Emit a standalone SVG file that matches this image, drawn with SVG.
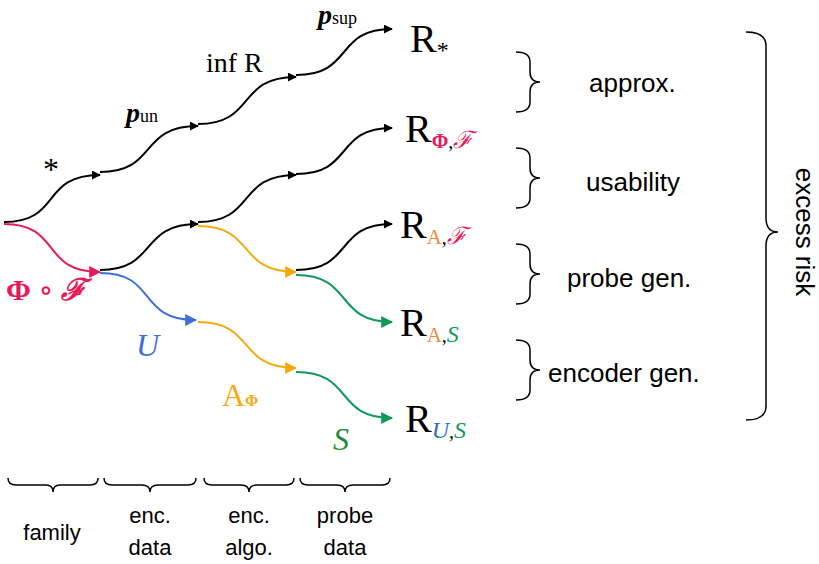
<svg xmlns="http://www.w3.org/2000/svg" width="819" height="564" viewBox="0 0 819 564">
<style>
.c{fill:none;stroke-width:2}
.s{font-family:"Liberation Sans",Arial,sans-serif;font-size:26px;fill:#000}
.m{font-family:"Liberation Serif","DejaVu Serif",serif;fill:#000}
.br{fill:none;stroke:#000;stroke-width:1.5}
</style>
<defs>
<marker id="ak" viewBox="0 0 10 10" refX="9" refY="5" markerWidth="9" markerHeight="9" orient="auto" markerUnits="userSpaceOnUse"><path d="M0,0L10,5L0,10z" fill="#000"/></marker>
<marker id="ar" viewBox="0 0 10 10" refX="9" refY="5" markerWidth="12" markerHeight="12" orient="auto" markerUnits="userSpaceOnUse"><path d="M0,0L10,5L0,10z" fill="#e8195a"/></marker>
<marker id="ab" viewBox="0 0 10 10" refX="9" refY="5" markerWidth="12" markerHeight="12" orient="auto" markerUnits="userSpaceOnUse"><path d="M0,0L10,5L0,10z" fill="#3f6fd8"/></marker>
<marker id="ao" viewBox="0 0 10 10" refX="9" refY="5" markerWidth="12" markerHeight="12" orient="auto" markerUnits="userSpaceOnUse"><path d="M0,0L10,5L0,10z" fill="#f8a912"/></marker>
<marker id="ag" viewBox="0 0 10 10" refX="9" refY="5" markerWidth="12" markerHeight="12" orient="auto" markerUnits="userSpaceOnUse"><path d="M0,0L10,5L0,10z" fill="#0f9a5a"/></marker>
</defs>
<g id="connectors">
<path class="c" stroke="#000" stroke-width="1.5" marker-end="url(#ak)" d="M4,222 C62,222 40,175 100,175"/>
<path class="c" stroke="#000" stroke-width="1.5" marker-end="url(#ak)" d="M100,172 C158,172 138,126 198,126"/>
<path class="c" stroke="#000" stroke-width="1.5" marker-end="url(#ak)" d="M198,124 C256,124 236,77 296,77"/>
<path class="c" stroke="#000" stroke-width="1.5" marker-end="url(#ak)" d="M296,75 C354,75 334,29 392,29"/>
<path class="c" stroke="#000" stroke-width="1.5" marker-end="url(#ak)" d="M100,270 C158,270 138,224 198,224"/>
<path class="c" stroke="#000" stroke-width="1.5" marker-end="url(#ak)" d="M198,222 C256,222 236,175 296,175"/>
<path class="c" stroke="#000" stroke-width="1.5" marker-end="url(#ak)" d="M296,174 C354,174 334,128 392,128"/>
<path class="c" stroke="#000" stroke-width="1.5" marker-end="url(#ak)" d="M296,270 C354,270 334,224 392,224"/>
<path class="c" stroke="#e8195a" marker-end="url(#ar)" d="M4,224 C62,224 40,272 100,272"/>
<path class="c" stroke="#3f6fd8" marker-end="url(#ab)" d="M100,273 C158,273 136,320 196,320"/>
<path class="c" stroke="#f8a912" marker-end="url(#ao)" d="M198,226 C256,226 236,272 296,272"/>
<path class="c" stroke="#f8a912" marker-end="url(#ao)" d="M198,322 C256,322 236,368 296,368"/>
<path class="c" stroke="#0f9a5a" marker-end="url(#ag)" d="M296,275 C354,275 334,322 392,322"/>
<path class="c" stroke="#0f9a5a" marker-end="url(#ag)" d="M296,372 C354,372 334,418 392,418"/>
</g>
<g id="edge-labels">
<text class="m" x="43" y="180" font-size="32">*</text>
<text class="m" x="126" y="122" font-size="28" font-style="italic" font-weight="bold">p<tspan font-size="18" font-style="normal" font-weight="normal">un</tspan></text>
<text class="m" x="206" y="72" font-size="28">inf R</text>
<text class="m" x="318" y="24" font-size="28" font-style="italic" font-weight="bold">p<tspan font-size="18" font-style="normal" font-weight="normal">sup</tspan></text>
<text class="m" x="6" y="300" font-size="30" style="fill:#e8195a" font-weight="bold">Φ <tspan font-weight="normal">∘</tspan> <tspan font-style="italic">ℱ</tspan></text>
<text class="m" x="136" y="356" font-size="32" font-style="italic" style="fill:#3f6fd8">U</text>
<text class="m" x="222" y="406" font-size="32" style="fill:#f8a912">A<tspan font-size="16" font-weight="bold">Φ</tspan></text>
<text class="m" x="333" y="450" font-size="32" font-style="italic" style="fill:#1f8a3a">S</text>
</g>
<g id="risks">
<text class="m" x="410" y="52" font-size="40">R<tspan font-size="24" dy="6">*</tspan></text>
<text class="m" x="405" y="142" font-size="40">R<tspan font-size="20" dy="6" style="fill:#e8195a" font-weight="bold">Φ</tspan><tspan font-size="20">,</tspan><tspan font-size="24" font-style="italic" style="fill:#e8195a">ℱ</tspan></text>
<text class="m" x="400" y="238" font-size="40">R<tspan font-size="21" dy="6" style="fill:#f08a3c">A</tspan><tspan font-size="20">,</tspan><tspan font-size="24" font-style="italic" style="fill:#e8195a">ℱ</tspan></text>
<text class="m" x="400" y="336" font-size="40">R<tspan font-size="21" dy="6" style="fill:#f08a3c">A</tspan><tspan font-size="20">,</tspan><tspan font-size="24" font-style="italic" style="fill:#0f9a5a">S</tspan></text>
<text class="m" x="405" y="432" font-size="40">R<tspan font-size="24" dy="6" font-style="italic" style="fill:#2a70b8">U</tspan><tspan font-size="20">,</tspan><tspan font-size="24" font-style="italic" style="fill:#0f9a5a">S</tspan></text>
</g>
<g id="right-braces">
<path class="br" d="M516,52 Q530,52 530,62 L530,72 Q530,82 540,82 Q530,82 530,92 L530,102 Q530,112 516,112"/>
<path class="br" d="M516,148 Q530,148 530,158 L530,168 Q530,178 540,178 Q530,178 530,188 L530,198 Q530,208 516,208"/>
<path class="br" d="M516,244 Q530,244 530,254 L530,264 Q530,274 540,274 Q530,274 530,284 L530,294 Q530,304 516,304"/>
<path class="br" d="M516,340 Q530,340 530,350 L530,360 Q530,370 540,370 Q530,370 530,380 L530,390 Q530,400 516,400"/>
<path class="br" d="M746,32 Q766,32 766,46 L766,218 Q766,232 778,232 Q766,232 766,246 L766,406 Q766,420 746,420"/>
<text class="s" x="589" y="92">approx.</text>
<text class="s" x="586" y="191">usability</text>
<text class="s" x="567" y="287">probe gen.</text>
<text class="s" x="548" y="382">encoder gen.</text>
<text class="s" transform="translate(796,232) rotate(90)" text-anchor="middle">excess risk</text>
</g>
<g id="bottom">
<path class="br" stroke-width="1" d="M8,478 Q8,485 16,485 L46,485 Q53,485 53,492 Q53,485 60,485 L90,485 Q98,485 98,478"/>
<path class="br" stroke-width="1" d="M104,478 Q104,485 112,485 L142,485 Q150,485 150,492 Q150,485 158,485 L188,485 Q196,485 196,478"/>
<path class="br" stroke-width="1" d="M204,478 Q204,485 212,485 L241,485 Q249,485 249,492 Q249,485 257,485 L286,485 Q294,485 294,478"/>
<path class="br" stroke-width="1" d="M300,478 Q300,485 308,485 L337,485 Q345,485 345,492 Q345,485 353,485 L382,485 Q390,485 390,478"/>
<g text-anchor="middle">
<text class="s" style="font-size:22px" x="52" y="540">family</text>
<text class="s" style="font-size:22px" x="150" y="523">enc.</text>
<text class="s" style="font-size:22px" x="150" y="555">data</text>
<text class="s" style="font-size:22px" x="249" y="523">enc.</text>
<text class="s" style="font-size:22px" x="249" y="555">algo.</text>
<text class="s" style="font-size:22px" x="345" y="523">probe</text>
<text class="s" style="font-size:22px" x="345" y="555">data</text>
</g>
</g>
</svg>
